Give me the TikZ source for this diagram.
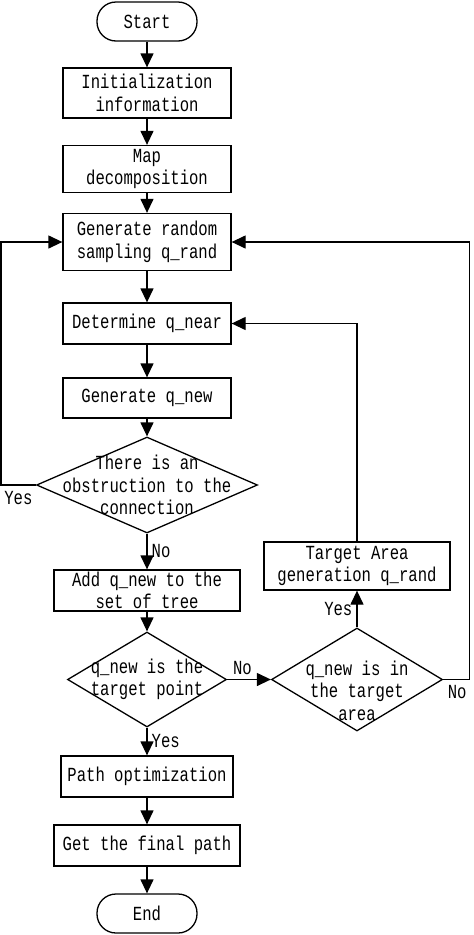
\documentclass[tikz,border=0pt]{standalone}
\usepackage{fontspec}
\newfontfamily\flowfont[FakeStretch=0.78]{Liberation Mono}
\usetikzlibrary{shapes.geometric,arrows.meta}

\begin{document}
\begin{tikzpicture}[x=1pt,y=-1pt,
	font=\flowfont\fontsize{20}{22.5}\selectfont,
	line width=1.3pt,
	arr/.style={-{Triangle[length=14pt,width=13pt]}},
	proc/.style={draw,rectangle,align=center,inner sep=0pt,minimum width=168pt},
	term/.style={draw,rectangle,rounded corners=19pt,minimum width=100pt,minimum height=39pt,inner sep=0pt},
	decide/.style={draw,diamond,inner sep=0pt},
	lbl/.style={inner sep=4pt}]
				\useasboundingbox (0,0) rectangle (474,935);
				\node[term] (start) at (147,21.5) {Start};
				\node[proc,minimum height=50pt] (init) at (147,93) {Initialization\\information};
				\node[proc,minimum height=47pt] (map) at (147,169) {Map\\decomposition};
				\node[proc,minimum height=57pt] (gen) at (147,242) {Generate random\\sampling q\_rand};
				\node[proc,minimum height=41pt] (det) at (147,323.5) {Determine q\_near};
				\node[proc,minimum height=40pt] (new) at (147,398) {Generate q\_new};
				\node[decide,minimum width=221pt,minimum height=96pt,
					label={[align=center]center:There is an\\obstruction to the\\connection}] (obs) at (147,485) {};
				\node[proc,minimum width=186pt,minimum height=41pt] (add) at (147,590.5) {Add q\_new to the\\set of tree};
				\node[decide,minimum width=159pt,minimum height=95pt,
					label={[align=center]center:q\_new is the\\target point}] (pt) at (147,679.5) {};
				\node[decide,minimum width=171pt,minimum height=103pt,
					label={[align=center,yshift=-11pt]center:q\_new is in\\the target\\area}] (area) at (357,679.5) {};
				\node[proc,minimum width=186pt,minimum height=48pt] (tgt) at (357,566) {Target Area\\generation q\_rand};
				\node[proc,minimum width=172pt,minimum height=41pt] (opt) at (147,776.5) {Path optimization};
				\node[proc,minimum width=186pt,minimum height=41pt] (fin) at (147,845.5) {Get the final path};
				\node[term] (end) at (147,913.5) {End};
				\draw[arr] (start) -- (init);
				\draw[arr] (init) -- (map);
				\draw[arr] (map) -- (gen);
				\draw[arr] (gen) -- (det);
				\draw[arr] (det) -- (new);
				\draw[arr] (new) -- (obs.north);
				\draw[arr] (obs.south) -- node[lbl,right]{No} (add);
				\draw[arr] (add) -- (pt.north);
				\draw[arr] (pt.east) -- node[lbl,above,pos=0.35]{No} (area.west);
				\draw[arr] (pt.south) -- node[lbl,right]{Yes} (opt);
				\draw[arr] (opt) -- (fin);
				\draw[arr] (fin) -- (end);
				\draw[arr] (area.north) -- node[lbl,left]{Yes} (tgt);
				\draw[arr] (tgt.north) |- (det.east);
				\draw[arr] (obs.west) -- node[lbl,below,inner sep=6pt]{Yes} ++(-35,0) |- (gen.west);
				\draw[arr] (area.east) -- ++(26,0) node[lbl,anchor=north east,inner sep=2pt,yshift=-3pt]{No} |- (gen.east);
				\end{tikzpicture}
\end{document}
